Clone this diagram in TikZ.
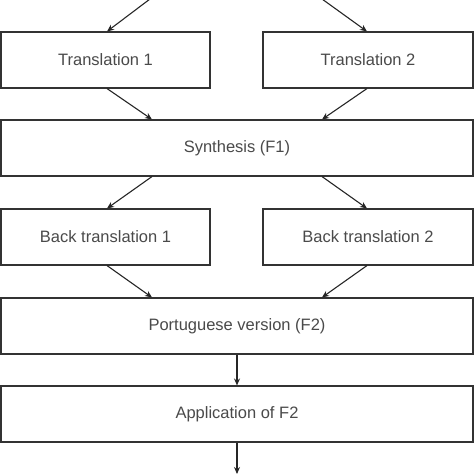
\documentclass[tikz,border=0pt]{standalone}
\usepackage{fontspec}
\setmainfont{Liberation Sans}
\usetikzlibrary{arrows.meta,calc}
\definecolor{boxline}{HTML}{333333}
\definecolor{txt}{HTML}{4A4A4A}
\begin{document}
\begin{tikzpicture}[x=1pt,y=-1pt,
  box/.style={draw=boxline,line width=1.1pt,fill=white,inner sep=0pt,minimum height=56pt,
    text=txt,font=\fontsize{16.5}{20}\selectfont},
  arr/.style={draw=black!85,line width=1.1pt,-{Stealth[length=7pt,width=6pt]}}]
\useasboundingbox (0,0) rectangle (474,474);
\node[box,minimum width=209pt] (t1) at (105.5,60) {Translation 1};
\node[box,minimum width=210pt] (t2) at (368,60) {Translation 2};
\node[box,minimum width=472pt] (syn) at (237,148) {Synthesis (F1)};
\node[box,minimum width=209pt] (b1) at (105.5,237) {Back translation 1};
\node[box,minimum width=210pt] (b2) at (368,237) {Back translation 2};
\node[box,minimum width=472pt] (pv) at (237,326) {Portuguese version (F2)};
\node[box,minimum width=472pt] (ap) at (237,414) {Application of F2};
\coordinate (s1) at (150,-1);
\coordinate (s2) at (322,-1);
\coordinate (e) at (237,474);
\draw[arr] (s1) -- ($(t1.north)+(1.5,0)$);
\draw[arr] (s2) -- ($(t2.north)+(-1,0)$);
\draw[arr] ($(t1.south)+(1.5,0)$) -- ($(syn.north)+(-85,0)$);
\draw[arr] ($(t2.south)+(-1,0)$) -- ($(syn.north)+(85,0)$);
\draw[arr] ($(syn.south)+(-85,0)$) -- ($(b1.north)+(1.5,0)$);
\draw[arr] ($(syn.south)+(85,0)$) -- ($(b2.north)+(-1,0)$);
\draw[arr] ($(b1.south)+(1.5,0)$) -- ($(pv.north)+(-85,0)$);
\draw[arr] ($(b2.south)+(-1,0)$) -- ($(pv.north)+(85,0)$);
\draw[arr] (pv.south) -- (ap.north);
\draw[arr] (ap.south) -- (e);
\end{tikzpicture}
\end{document}
